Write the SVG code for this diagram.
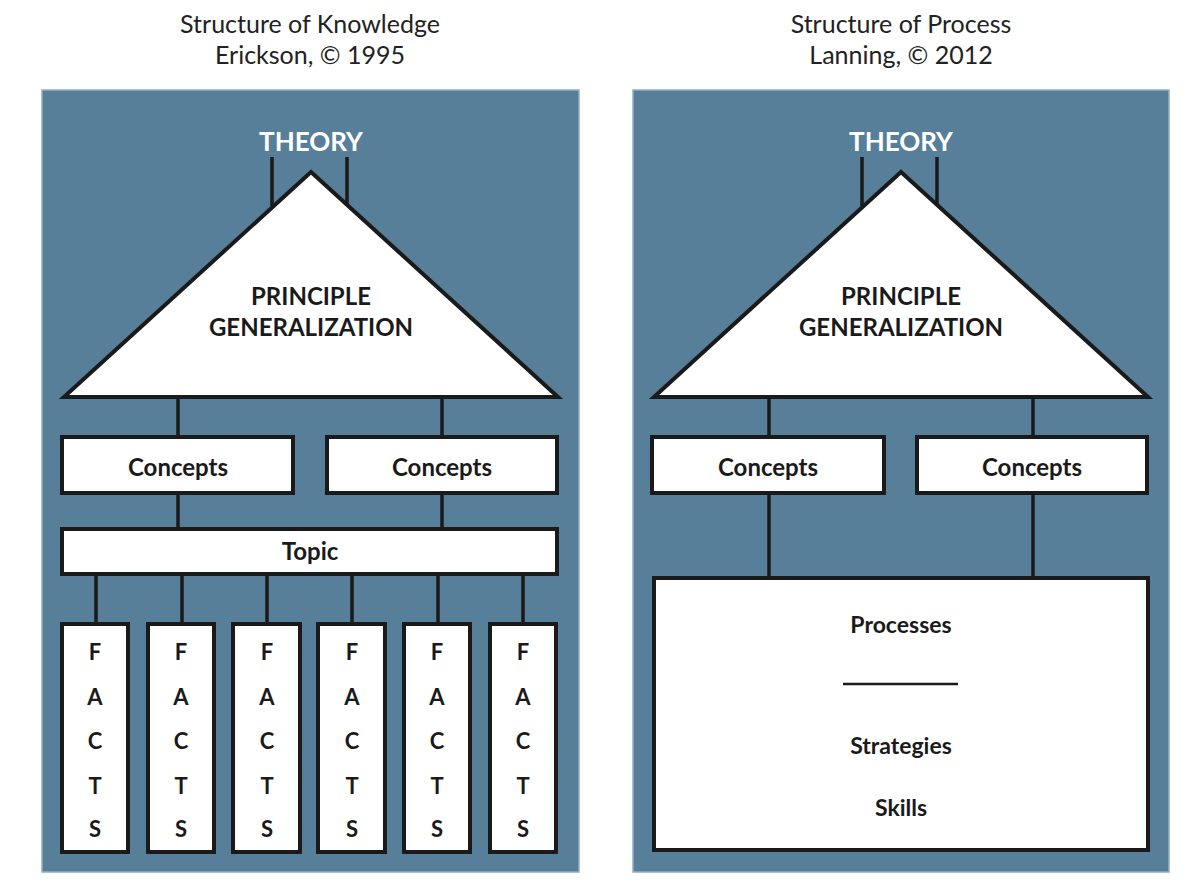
<svg xmlns="http://www.w3.org/2000/svg" width="1200" height="882" viewBox="0 0 1200 882">
<style>
.panel{fill:#577f99;stroke:#8fb0c4;stroke-width:1.5}
.box{fill:#fff;stroke:#1a1a1a;stroke-width:4}
.ln{stroke:#1a1a1a;stroke-width:3.5;fill:none}
.t{font-family:Lato,"Liberation Sans",sans-serif;font-weight:bold;fill:#1a1a1a;text-anchor:middle}
.title{font-family:Lato,"Liberation Sans",sans-serif;font-size:25px;fill:#222;text-anchor:middle}
.th{font-family:Lato,"Liberation Sans",sans-serif;font-weight:bold;font-size:26px;fill:#fff;text-anchor:middle}
</style>
<rect width="1200" height="882" fill="#fff"/>
<text class="title" x="310" y="33">Structure of Knowledge</text>
<text class="title" x="310" y="64">Erickson, © 1995</text>
<text class="title" x="901" y="33">Structure of Process</text>
<text class="title" x="901" y="64">Lanning, © 2012</text>
<rect class="panel" x="42" y="90" width="537" height="782"/>
<rect class="panel" x="633" y="90" width="536" height="782"/>
<g id="connectors">
<path class="ln" d="M272 157V206M347 157V206M178 397V437M442 397V437M178 493V529M442 493V529M96 574V624M182 574V624M267 574V624M352 574V624M438 574V624M523 574V624"/>
<path class="ln" d="M862 157V206M937 157V206M769 397V437M1033 397V437M769 493V578M1033 493V578"/>
</g>
<g id="theory-left"><text class="th" x="311" y="151">THEORY</text></g>
<g id="principle-left"><polygon class="box" points="311,172 64,397 558,397"/>
<text class="t" font-size="24" x="311" y="305">PRINCIPLE</text><text class="t" font-size="24" x="311" y="336">GENERALIZATION</text></g>
<g id="concepts-l1"><rect class="box" x="62" y="437" width="231" height="56"/><text class="t" font-size="24" x="178" y="476">Concepts</text></g>
<g id="concepts-l2"><rect class="box" x="327" y="437" width="230" height="56"/><text class="t" font-size="24" x="442" y="476">Concepts</text></g>
<g id="topic"><rect class="box" x="62" y="529" width="495" height="45"/><text class="t" font-size="24" x="310" y="560">Topic</text></g>
<g id="facts" font-size="22">
<g id="facts1"><rect class="box" x="62" y="624" width="66" height="228"/><text class="t" font-size="22"><tspan x="95" y="660">F</tspan><tspan x="95" y="705">A</tspan><tspan x="95" y="749">C</tspan><tspan x="95" y="794">T</tspan><tspan x="95" y="837">S</tspan></text></g>
<g id="facts2"><rect class="box" x="148" y="624" width="66" height="228"/><text class="t" font-size="22"><tspan x="181" y="660">F</tspan><tspan x="181" y="705">A</tspan><tspan x="181" y="749">C</tspan><tspan x="181" y="794">T</tspan><tspan x="181" y="837">S</tspan></text></g>
<g id="facts3"><rect class="box" x="233" y="624" width="67" height="228"/><text class="t" font-size="22"><tspan x="267" y="660">F</tspan><tspan x="267" y="705">A</tspan><tspan x="267" y="749">C</tspan><tspan x="267" y="794">T</tspan><tspan x="267" y="837">S</tspan></text></g>
<g id="facts4"><rect class="box" x="318" y="624" width="67" height="228"/><text class="t" font-size="22"><tspan x="352" y="660">F</tspan><tspan x="352" y="705">A</tspan><tspan x="352" y="749">C</tspan><tspan x="352" y="794">T</tspan><tspan x="352" y="837">S</tspan></text></g>
<g id="facts5"><rect class="box" x="404" y="624" width="66" height="228"/><text class="t" font-size="22"><tspan x="437" y="660">F</tspan><tspan x="437" y="705">A</tspan><tspan x="437" y="749">C</tspan><tspan x="437" y="794">T</tspan><tspan x="437" y="837">S</tspan></text></g>
<g id="facts6"><rect class="box" x="490" y="624" width="66" height="228"/><text class="t" font-size="22"><tspan x="523" y="660">F</tspan><tspan x="523" y="705">A</tspan><tspan x="523" y="749">C</tspan><tspan x="523" y="794">T</tspan><tspan x="523" y="837">S</tspan></text></g>
</g>
<g id="theory-right"><text class="th" x="901" y="151">THEORY</text></g>
<g id="principle-right"><polygon class="box" points="901,172 654,397 1148,397"/>
<text class="t" font-size="24" x="901" y="305">PRINCIPLE</text><text class="t" font-size="24" x="901" y="336">GENERALIZATION</text></g>
<g id="concepts-r1"><rect class="box" x="652" y="437" width="232" height="56"/><text class="t" font-size="24" x="768" y="476">Concepts</text></g>
<g id="concepts-r2"><rect class="box" x="917" y="437" width="230" height="56"/><text class="t" font-size="24" x="1032" y="476">Concepts</text></g>
<g id="processes"><rect class="box" x="654" y="578" width="494" height="272"/>
<text class="t" font-size="23" x="901" y="633">Processes</text>
<line x1="843" y1="684" x2="958" y2="684" stroke="#1a1a1a" stroke-width="2.5"/>
<text class="t" font-size="23" x="901" y="754">Strategies</text>
<text class="t" font-size="23" x="901" y="816">Skills</text></g>
</svg>
